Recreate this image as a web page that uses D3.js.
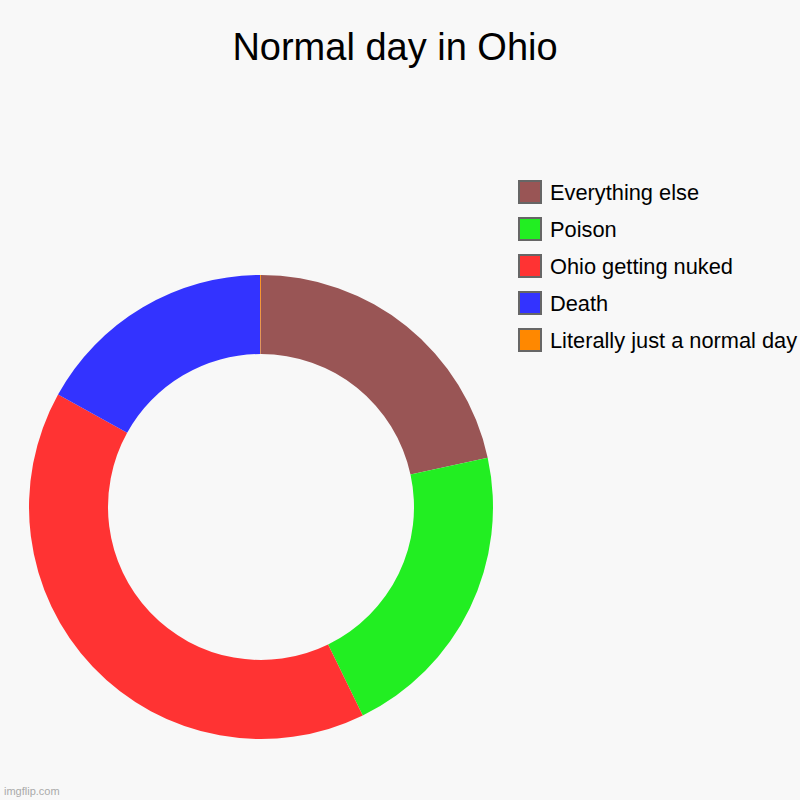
<!DOCTYPE html>
<html>
<head>
<meta charset="utf-8">
<script src="https://cdn.jsdelivr.net/npm/d3@7"></script>
<style>
  body { margin: 0; background: #f8f8f8; }
  svg { display: block; }
</style>
</head>
<body>
<svg></svg>
<script>
var categories = ['Everything else', 'Poison', 'Ohio getting nuked', 'Death', 'Literally just a normal day'];
var values = [21.6, 21.2, 40.3, 16.9, 0.06];
var colors = ['#995555', '#22ee22', '#ff3333', '#3333ff', '#ff8800'];

var W = 800, H = 800;
var cx = 261, cy = 507, rOuter = 232, rInner = 153;

var svg = d3.select('svg')
    .attr('width', W)
    .attr('height', H)
    .style('background-color', '#f8f8f8');

svg.append('text')
    .text('Normal day in Ohio')
    .attr('x', 395)
    .attr('y', 60)
    .attr('text-anchor', 'middle')
    .style('font-family', 'Liberation Sans, Arial, sans-serif')
    .style('font-size', '38px')
    .attr('fill', '#000');

var pie = d3.pie().sort(null).value(function (d) { return d; });
var arc = d3.arc().innerRadius(rInner).outerRadius(rOuter);
var color = d3.scaleOrdinal().domain(categories).range(colors);

var g = svg.append('g').attr('transform', 'translate(' + cx + ',' + cy + ')');

g.selectAll('path')
    .data(pie(values))
    .enter().append('path')
    .attr('d', arc)
    .attr('fill', function (d, i) { return color(categories[i]); });

var legend = svg.append('g').attr('transform', 'translate(519,181)');
var y = d3.scalePoint().domain(categories).range([0, 148]);

var item = legend.selectAll('g')
    .data(categories)
    .enter().append('g')
    .attr('transform', function (d) { return 'translate(0,' + y(d) + ')'; });

item.append('rect')
    .attr('width', 22)
    .attr('height', 22)
    .attr('fill', function (d) { return color(d); })
    .attr('stroke', '#666')
    .attr('stroke-width', 2);

item.append('text')
    .text(function (d) { return d; })
    .attr('x', 31)
    .attr('y', 11)
    .attr('dy', '0.36em')
    .style('font-family', 'Liberation Sans, Arial, sans-serif')
    .style('font-size', '21.8px')
    .attr('fill', '#000');

svg.append('text')
    .text('imgflip.com')
    .attr('x', 4)
    .attr('y', 795)
    .style('font-family', 'Liberation Sans, Arial, sans-serif')
    .style('font-size', '11px')
    .attr('fill', '#aaa');
</script>
</body>
</html>
